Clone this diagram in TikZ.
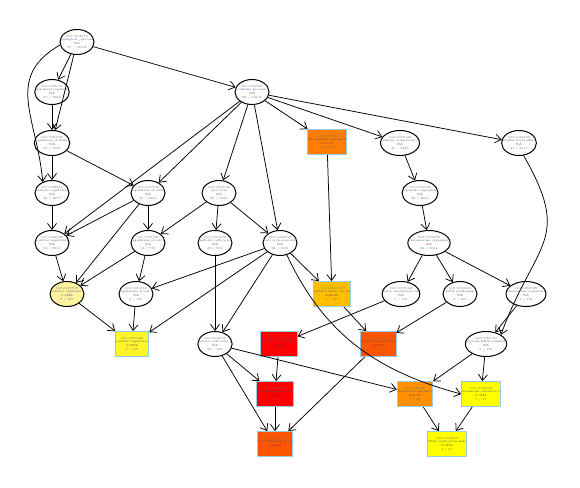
\documentclass[tikz,border=0pt]{standalone}
\usepackage{tikz}
\usetikzlibrary{shapes.geometric,arrows.meta,positioning,calc}
\definecolor{idgray}{RGB}{105,105,105}
\definecolor{termblue}{RGB}{60,85,125}
\definecolor{naclr}{RGB}{110,30,90}
\definecolor{boxline}{RGB}{150,205,230}
\definecolor{palepink}{RGB}{255,243,160}
\definecolor{amber}{RGB}{255,190,0}
\definecolor{orng}{RGB}{255,125,0}
\definecolor{orng2}{RGB}{255,145,0}
\definecolor{redorng}{RGB}{255,85,0}
\definecolor{yel}{RGB}{255,255,0}
\definecolor{yel2}{RGB}{255,245,40}
\newcommand{\golabel}[4]{\textcolor{idgray}{#1}\\\textcolor{termblue}{#2}\\\textcolor{naclr}{#3}\\\textcolor{idgray}{#4}}

\begin{document}
\begin{tikzpicture}[x=1pt, y=-1pt,
  every node/.style={font=\fontsize{3}{3.7}\selectfont, align=center},
  goterm/.style={ellipse, draw, line width=1pt, minimum width=34pt, minimum height=25pt, inner xsep=-5pt, inner ysep=0pt},
  sigterm/.style={rectangle, draw=boxline, line width=0.9pt, minimum width=33pt, minimum height=25pt, inner sep=0pt, fill=#1},
  edge/.style={-{Straight Barb[length=6pt,width=9pt]}, line width=0.75pt}]
  \useasboundingbox (0,0) rectangle (580,487);

  % level 1-2
  \node[goterm] (n1) at (77,42) {\golabel{GO:0008150}{biological\_process}{NA}{95 / 13493}};
  \node[goterm] (n2) at (52,92) {\golabel{GO:0065007}{biological regulatio}{NA}{60 / 7562}};
  \node[goterm] (n3) at (252,92) {\golabel{GO:0009987}{cellular process}{NA}{88 / 11604}};
  \node[goterm] (n4) at (52,143) {\golabel{GO:0050789}{regulation of biolog}{NA}{58 / 7127}};
  \node[sigterm=orng] (n5) at (327,142) {\golabel{GO:0007059}{chromosome segregati}{1.1e-05}{12 / 302}};
  \node[goterm] (n6) at (400,143) {\golabel{GO:0016043}{cellular component o}{NA}{40 / 4385}};
  \node[goterm] (n7) at (519,143) {\golabel{GO:0044249}{cellular biosyntheti}{NA}{31 / 4015}};
  % level 3-4
  \node[goterm] (n8) at (52,193) {\golabel{GO:0048518}{positive regulation}{NA}{35 / 3877}};
  \node[goterm] (n9) at (148,193) {\golabel{GO:0050794}{regulation of cellul}{NA}{55 / 6693}};
  \node[goterm] (n10) at (219,193) {\golabel{GO:0007049}{cell cycle}{NA}{37 / 1432}};
  \node[goterm] (n11) at (420,193) {\golabel{GO:0006996}{organelle organizati}{NA}{29 / 2596}};
  \node[goterm] (n12) at (52,243) {\golabel{GO:0048522}{positive regulation}{NA}{33 / 3512}};
  \node[goterm] (n13) at (148,243) {\golabel{GO:0051726}{regulation of cell c}{NA}{14 / 713}};
  \node[goterm] (n14) at (215,243) {\golabel{GO:0000278}{mitotic cell cycle}{NA}{28 / 904}};
  \node[goterm] (n15) at (280,243) {\golabel{GO:0022402}{cell cycle process}{NA}{33 / 1061}};
  \node[goterm] (n16) at (429,243) {\golabel{GO:0051276}{chromosome organizat}{NA}{22 / 1064}};
  % level 5
  \node[goterm, fill=palepink] (n17) at (67,294) {\golabel{GO:0045787}{positive regulation}{0.0136}{6 / 187}};
  \node[goterm] (n18) at (136,294) {\golabel{GO:0010564}{regulation of cell c}{NA}{8 / 410}};
  \node[sigterm=amber] (n19) at (332,294) {\golabel{GO:0000070}{mitotic sister chrom}{4.8e-04}{9 / 127}};
  \node[goterm] (n20) at (401,294) {\golabel{GO:0007062}{sister chromatid coh}{NA}{5 / 118}};
  \node[goterm] (n21) at (460,294) {\golabel{GO:0006323}{DNA packaging}{NA}{8 / 296}};
  \node[goterm] (n22) at (526,294) {\golabel{GO:0034728}{nucleosome organizat}{NA}{7 / 178}};
  % level 6
  \node[sigterm=yel2] (n23) at (132,344) {\golabel{GO:0090068}{positive regulation}{0.0512}{3 / 105}};
  \node[goterm] (n24) at (215,344) {\golabel{GO:1903047}{mitotic cell cycle p}{NA}{24 / 736}};
  \node[sigterm=red] (n25) at (279,344) {\golabel{GO:0007064}{mitotic sister chrom}{1.5e-09}{4 / 12}};
  \node[sigterm=redorng] (n26) at (378,344) {\golabel{GO:0000819}{sister chromatid seg}{1.1e-07}{10 / 151}};
  \node[goterm] (n27) at (486,344) {\golabel{GO:0065004}{protein-DNA complex}{NA}{6 / 139}};
  % level 7-8
  \node[sigterm=red] (n28) at (275,394) {\golabel{GO:0034087}{establishment of mit}{1.5e-09}{4 / 12}};
  \node[sigterm=orng2] (n29) at (415,394) {\golabel{GO:0031497}{chromatin assembly}{3.8e-05}{5 / 66}};
  \node[sigterm=yel] (n30) at (481,394) {\golabel{GO:0006333}{chromatin assembly o}{0.0251}{5 / 97}};
  \node[sigterm=redorng] (n31) at (275,444) {\golabel{GO:0034085}{establishment of sis}{1.6e-07}{4 / 17}};
  \node[sigterm=yel] (n32) at (447,444) {\golabel{GO:0006336}{DNA replication-inde}{0.0372}{2 / 21}};

  % edges
  \foreach \a/\b in {n1/n2, n1/n4, n1/n3, n2/n4, n4/n8, n4/n9,
      n3/n9, n3/n10, n3/n12, n3/n15, n3/n5, n3/n6, n3/n7,
      n8/n12, n9/n12, n9/n13, n9/n17, n10/n13, n10/n14, n10/n15,
      n12/n17, n13/n17, n13/n18, n15/n18, n15/n23, n15/n19, n15/n24,
      n6/n11, n11/n16, n16/n20, n16/n21, n16/n22, n5/n19,
      n17/n23, n18/n23, n14/n24, n19/n26, n20/n25, n21/n26, n22/n27,
      n24/n28, n24/n29, n24/n31, n25/n28, n26/n31, n27/n29, n27/n30,
      n28/n31, n29/n32, n30/n32}
    \draw[edge] (\a) -- (\b);
  \draw[edge] (n1.190) to[out=210, in=95, looseness=1.2] (n8.130);
  \draw[edge] (n7.-70) to[out=-60, in=70, looseness=1.4] (n27.north east);
  \draw[edge] (n15.-60) to[out=-65, in=165] (n30.west);
\end{tikzpicture}
\end{document}
